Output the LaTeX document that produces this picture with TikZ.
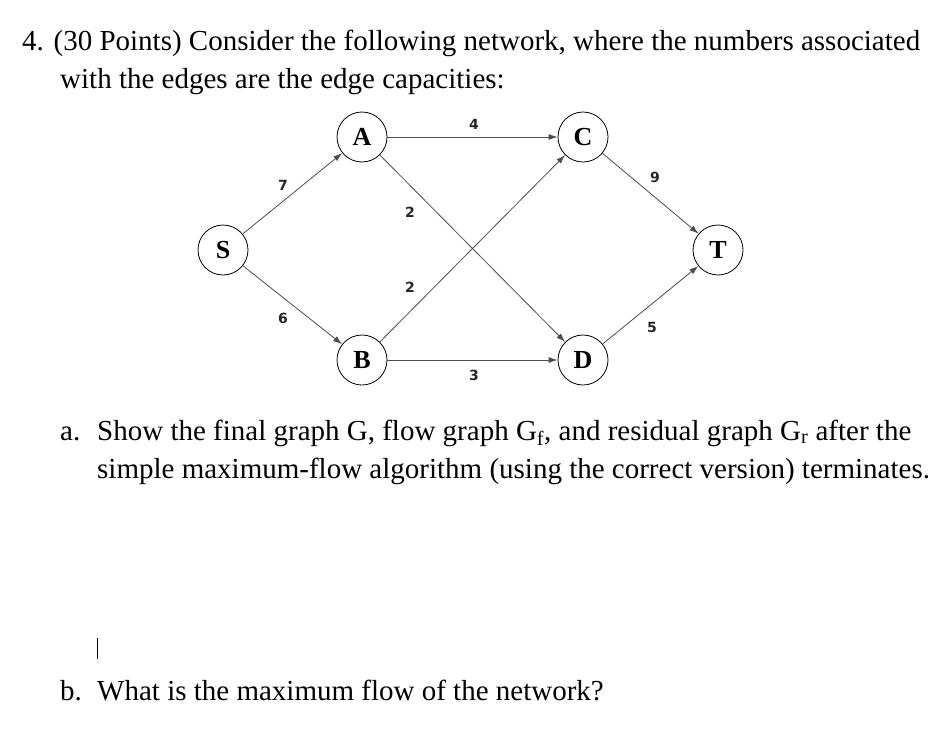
\documentclass[tikz,border=0pt]{standalone}
\usepackage{fontspec}
\setmainfont{Liberation Serif}
\newfontfamily\lblfont{DejaVu Sans}
\usetikzlibrary{arrows.meta}
\begin{document}
\begin{tikzpicture}[x=1pt,y=-1pt,
  txt/.style={anchor=base west,inner sep=0pt,font=\fontsize{29}{33}\selectfont},
  vx/.style={circle,draw,line width=0.8pt,minimum size=50pt,inner sep=0pt,font=\fontsize{26}{28}\selectfont\bfseries},
  ed/.style={draw=black!70,line width=0.8pt,-{Latex[length=9pt,width=6pt]}},
  lb/.style={font=\lblfont\fontsize{14}{16}\selectfont\bfseries,text=black!85,inner sep=0pt}]
\useasboundingbox (0,0) rectangle (950,731);
\node[txt] (l1) at (22,50) {4. (30 Points) Consider the following network, where the numbers associated};
\node[txt] (l2) at (60,88) {with the edges are the edge capacities:};
\node[vx] (S) at (223,250) {S};
\node[vx] (A) at (362,137) {A};
\node[vx] (C) at (583,137) {C};
\node[vx] (T) at (718,250) {T};
\node[vx] (B) at (362,360) {B};
\node[vx] (D) at (583,360) {D};
\draw[ed] (S) -- (A);
\draw[ed] (S) -- (B);
\draw[ed] (A) -- (C);
\draw[ed] (A) -- (D);
\draw[ed] (B) -- (C);
\draw[ed] (B) -- (D);
\draw[ed] (C) -- (T);
\draw[ed] (D) -- (T);
\node[lb] (n7) at (283,185) {7};
\node[lb] (n6) at (283,318) {6};
\node[lb] (n2a) at (410,212) {2};
\node[lb] (n2b) at (410,287) {2};
\node[lb] (n4) at (474,124) {4};
\node[lb] (n3) at (474,375) {3};
\node[lb] (n9) at (655,177) {9};
\node[lb] (n5) at (652,327) {5};
\node[txt] (la) at (60,440) {a.};
\node[txt] (la1) at (97,440) {Show the final graph G, flow graph G\textsubscript{f}, and residual graph G\textsubscript{r} after the};
\node[txt] (la2) at (97,478) {simple maximum-flow algorithm (using the correct version) terminates.};
\draw[line width=0.7pt] (97,638) -- (97,659);
\node[txt] (lb1) at (60,700) {b.};
\node[txt] (lb2) at (97,700) {What is the maximum flow of the network?};
\end{tikzpicture}
\end{document}
